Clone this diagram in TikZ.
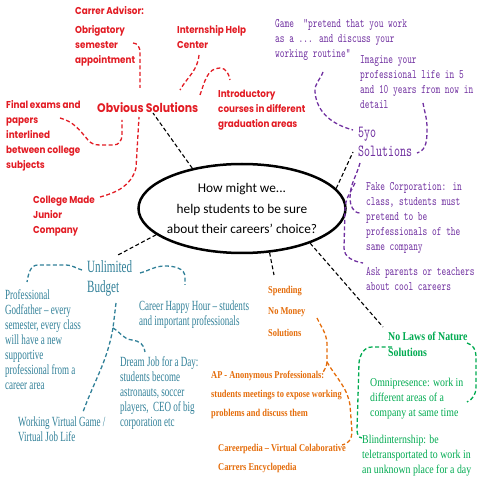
\documentclass[tikz,border=0pt]{standalone}
\usepackage{fontspec}
\usepackage{tikz}
\usetikzlibrary{shapes.geometric,calc,positioning}
\newfontfamily\qfont{Carlito}
\newfontfamily\obvfont{Poppins}[FakeStretch=0.88]
\newfontfamily\fivefont{lmmono10-regular.otf}[FakeStretch=0.69]
\newfontfamily\fivebigfont{lmmono10-regular.otf}[FakeStretch=0.67]
\newfontfamily\budgetfont{Liberation Serif}[FakeStretch=0.645]
\newfontfamily\spendfont{Liberation Serif}[FakeStretch=0.8]
\newfontfamily\lawsfont{Liberation Serif}[FakeStretch=0.82]
\definecolor{obvred}{RGB}{226,28,36}
\definecolor{fivepurple}{RGB}{112,48,160}
\definecolor{budgetteal}{RGB}{49,128,152}
\definecolor{spendorange}{RGB}{228,108,10}
\definecolor{lawsgreen}{RGB}{0,170,80}
\tikzset{
    question/.style = {draw, ellipse, line width=2.5pt,
        minimum width=207pt,
        minimum height=89pt,
        inner xsep=-12pt, inner ysep=-6pt, align=center,
        font=\qfont\fontsize{13.3}{20.5}\selectfont},
    idea/.style = {inner sep=0pt, anchor=north west, align=left},
    obvtext/.style = {idea, text=obvred, font=\obvfont\bfseries\fontsize{10}{15}\selectfont},
    obvtitle/.style = {idea, text=obvred, font=\obvfont\bfseries\fontsize{12.4}{15}\selectfont},
    fivetext/.style = {idea, text=fivepurple, font=\fivefont\fontsize{13}{15}\selectfont},
    fivetitle/.style = {idea, text=fivepurple, font=\fivebigfont\fontsize{17}{19}\selectfont},
    budgettext/.style = {idea, text=budgetteal, font=\budgetfont\fontsize{14}{15}\selectfont},
    budgettitle/.style = {idea, text=budgetteal, font=\budgetfont\fontsize{17.2}{20}\selectfont},
    spendtext/.style = {idea, text=spendorange, font=\spendfont\bfseries\fontsize{10.5}{19}\selectfont},
    spendtitle/.style = {idea, text=spendorange, font=\spendfont\bfseries\fontsize{10.5}{21.5}\selectfont},
    lawstext/.style = {idea, text=lawsgreen, font=\lawsfont\fontsize{12}{15}\selectfont},
    lawstitle/.style = {idea, text=lawsgreen, font=\lawsfont\bfseries\fontsize{12}{16}\selectfont},
    link/.style = {dash pattern=on 4pt off 2.5pt, line width=1.3pt},
    qlink/.style = {link, draw=black, line width=1.1pt},
    obvlink/.style = {link, draw=obvred},
    fivelink/.style = {link, draw=fivepurple},
    budgetlink/.style = {link, draw=budgetteal},
    spendlink/.style = {link, draw=spendorange},
    lawslink/.style = {link, draw=lawsgreen}
}
\begin{document}
\begin{tikzpicture}[x=1pt,y=1pt]
    \useasboundingbox (0,0) rectangle (480,480);
    \node[question] (q) at (242,271.5) {How might we...\\help students to be sure\\about their careers’ choice?};

    \node[obvtitle] (obv) at (97,378) {Obvious Solutions};
    \node[obvtext] (advisor) at (75,474) {Carrer Advisor:\\[4pt]Obrigatory\\semester\\appointment};
    \node[obvtext] (intern) at (177,455) {Internship Help\\Center};
    \node[obvtext] (intro) at (218,390) {Introductory\\courses in different\\graduation areas};
    \node[obvtext] (exams) at (6,380) {Final exams and\\papers\\interlined\\between college\\subjects};
    \node[obvtext] (junior) at (33,284) {College Made\\Junior\\Company};

    \node[fivetitle] (five) at (358,353) {5yo\\Solutions};
    \node[fivetext] (game) at (275,461.2) {Game~~"pretend that you work\\as a ... and discuss your\\working routine"};
    \node[fivetext] (imagine) at (360,424.2) {Imagine your\\professional life in 5\\and 10 years from now in\\detail};
    \node[fivetext] (fake) at (366,298.2) {Fake Corporation: in\\class, students must\\pretend to be\\professionals of the\\same company};
    \node[fivetext] (parents) at (366,213.2) {Ask parents or teachers\\about cool careers};

    \node[budgettitle] (budget) at (87,220) {Unlimited\\Budget};
    \node[budgettext] (godfather) at (5,190.6) {Professional\\Godfather – every\\semester, every class\\will have a new\\supportive\\professional from a\\career area};
    \node[budgettext] (happy) at (139,179.6) {Career Happy Hour – students\\and important professionals};
    \node[budgettext] (dream) at (120,123.6) {Dream Job for a Day:\\students become\\astronauts, soccer\\players,~~CEO of big\\corporation etc};
    \node[budgettext] (virtual) at (18,63.6) {Working Virtual Game /\\Virtual Job Life};

    \node[spendtitle] (spend) at (268,194.2) {Spending\\No Money\\Solutions};
    \node[spendtext] (anon) at (211,109.2) {AP - Anonymous Professionals:\\students meetings to expose working\\problems and discuss them};
    \node[spendtext] (pedia) at (218,36.2) {Careerpedia – Virtual Colaborative\\Carrers Encyclopedia};

    \node[lawstitle] (laws) at (388,147.8) {No Laws of Nature\\Solutions};
    \node[lawstext] (omni) at (370,101.8) {Omnipresence: work in\\different areas of a\\company at same time};
    \node[lawstext] (blind) at (362,44.8) {Blindinternship: be\\teletransportated to work in\\an unknown place for a day};

    \coordinate (qob) at (153,367);
    \coordinate (qfi) at (353,328);
    \coordinate (qbu) at (118,225);
    \coordinate (qsp) at (274,205);
    \coordinate (qla) at (383,153);
    \draw[qlink] (q.141) -- (qob);
    \draw[qlink] (q.12) -- (qfi);
    \draw[qlink] (q.197) -- (qbu);
    \draw[qlink] (q.302) -- (qsp);
    \draw[qlink] (q.333) -- (qla);

    \coordinate (ad1) at (133,437);
    \coordinate (ad2) at (140,392);
    \coordinate (in1) at (199,425);
    \coordinate (in2) at (180,390);
    \coordinate (ic1) at (200,385);
    \coordinate (ic2) at (230,400);
    \coordinate (fe1) at (60,362);
    \coordinate (fe2) at (122,360);
    \coordinate (cm1) at (100,283);
    \coordinate (cm2) at (139,363);
    \draw[obvlink] (ad1) to[out=0,in=90] (140,428) -- (ad2);
    \draw[obvlink] (in1) to[out=-95,in=60] (in2);
    \draw[obvlink] (ic1) to[out=70,in=180] (220,412) to[out=0,in=100] (ic2);
    \draw[obvlink] (fe1) to[out=-15,in=130] (88,340) to[out=-50,in=180] (100,335) -- (114,335) to[out=0,in=-90] (122,345) -- (fe2);
    \draw[obvlink] (cm1) to[out=15,in=-105] (136,312) -- (cm2);

    \coordinate (gm1) at (323,408);
    \coordinate (gm2) at (353,350);
    \coordinate (im1) at (423,377);
    \coordinate (im2) at (417,327);
    \coordinate (fk1) at (360,317);
    \coordinate (fk2) at (360,267);
    \coordinate (ak1) at (355,297);
    \coordinate (ak2) at (363,217);
    \draw[fivelink] (gm1) to[out=-110,in=95] (315,388) to[out=-85,in=165] (gm2);
    \draw[fivelink] (im1) to[out=-80,in=90] (427,352) to[out=-90,in=15] (im2);
    \draw[fivelink] (fk1) to[out=-105,in=90] (350,282) to[out=-90,in=180] (fk2);
    \draw[fivelink] (ak1) to[out=-115,in=90] (345,270) -- (344,232) to[out=-90,in=170] (ak2);

    \coordinate (pg1) at (82,210);
    \coordinate (pg2) at (27,198);
    \coordinate (hh1) at (140,207);
    \coordinate (hh2) at (185,195);
    \coordinate (bd1) at (116,177);
    \coordinate (bfork) at (113,152);
    \coordinate (dj) at (145,128);
    \coordinate (wv) at (83,68);
    \draw[budgetlink] (pg1) to[out=165,in=0] (66,215) -- (38,215) to[out=180,in=80] (pg2);
    \draw[budgetlink] (hh1) to[out=15,in=180] (165,214) to[out=0,in=90] (185,203) -- (hh2);
    \draw[budgetlink] (bd1) -- (bfork);
    \draw[budgetlink] (bfork) to[out=-30,in=175] (132,140) to[out=-5,in=90] (dj);
    \draw[budgetlink] (bfork) to[out=-100,in=70] (wv);

    \coordinate (sp1) at (317,162);
    \coordinate (sfork) at (327,118);
    \coordinate (ap1) at (322,106);
    \coordinate (cp1) at (342,35);
    \draw[spendlink] (sp1) to[out=-65,in=95] (327,137) -- (sfork);
    \draw[spendlink] (sfork) to[out=-95,in=60] (ap1);
    \draw[spendlink] (sfork) to[out=-60,in=100] (350,75) -- (352,48) to[out=-90,in=5] (cp1);

    \coordinate (nl1) at (392,133);
    \coordinate (bl1) at (362,42);
    \coordinate (nl2) at (467,137);
    \coordinate (om1) at (467,78);
    \draw[lawslink] (nl1) -- (372,133) to[out=180,in=85] (359,117) -- (357,50) to[out=-90,in=175] (bl1);
    \draw[lawslink] (nl2) to[out=-15,in=90] (476,124) -- (476,93) to[out=-90,in=25] (om1);
\end{tikzpicture}
\end{document}
